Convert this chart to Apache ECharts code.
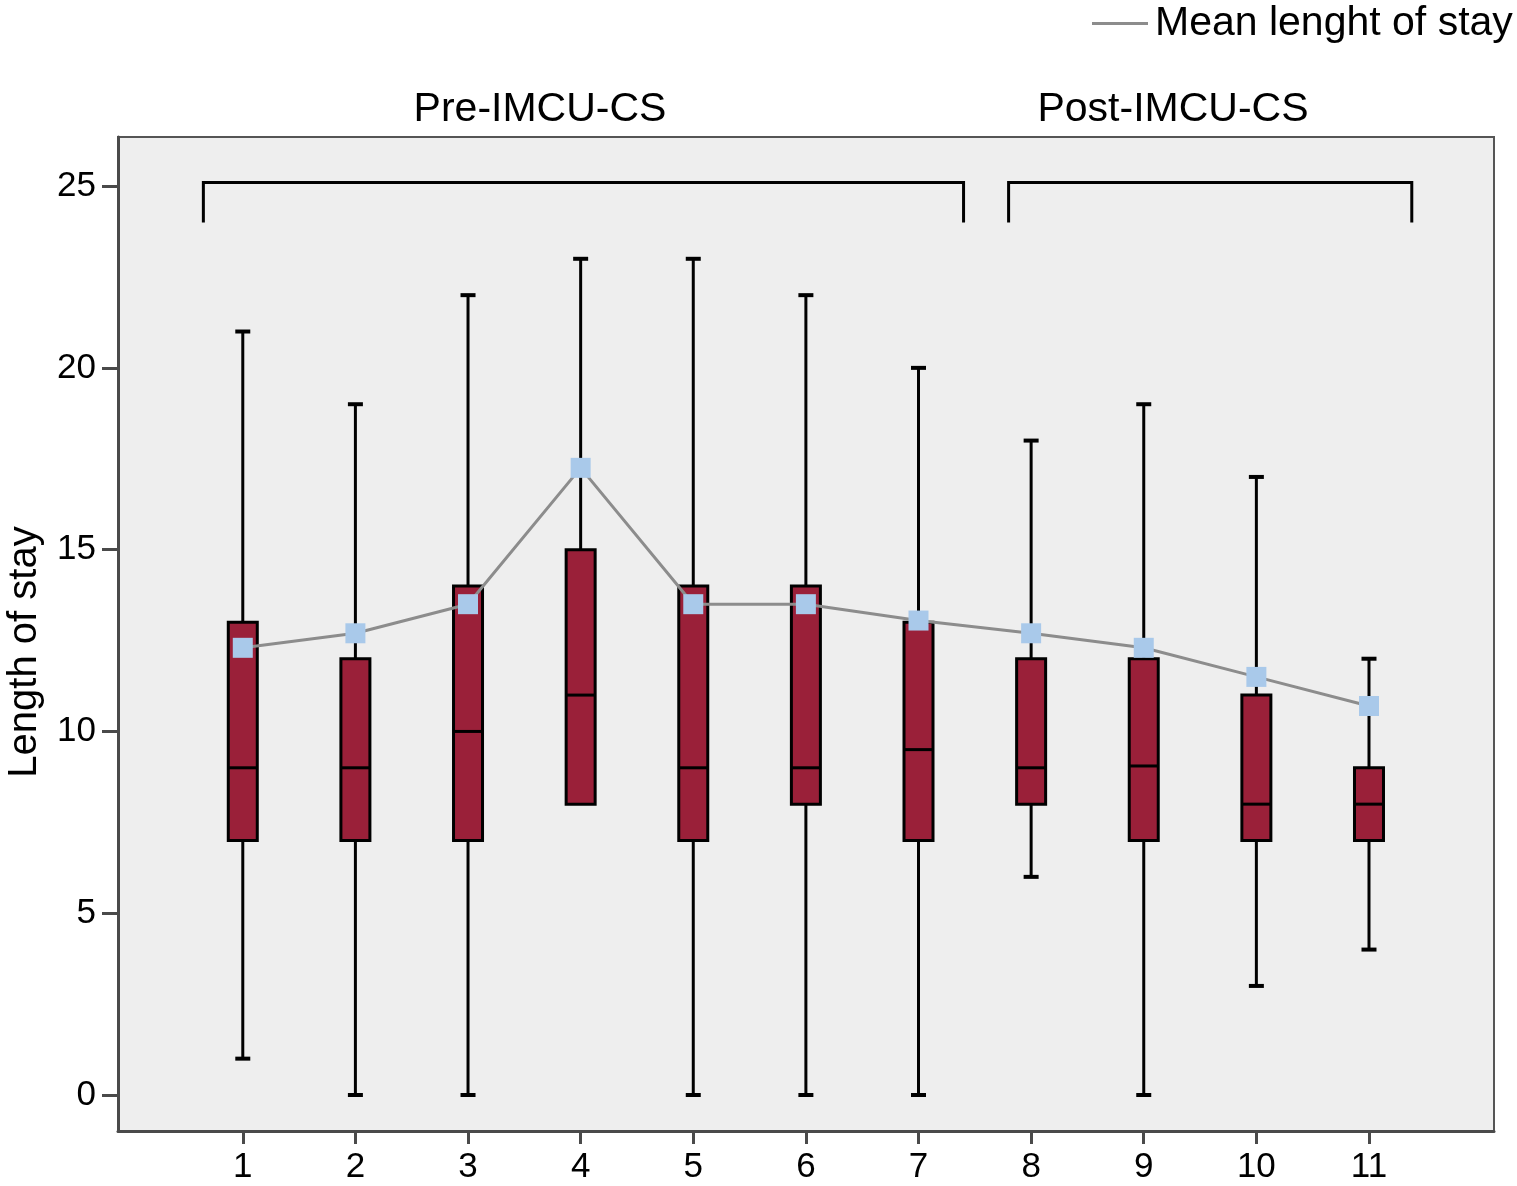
<!DOCTYPE html>
<html>
<head>
<meta charset="utf-8">
<title>Length of stay</title>
<script src="https://cdn.jsdelivr.net/npm/echarts@6/dist/echarts.min.js"></script>
<style>
  html, body { margin: 0; padding: 0; background: #fff; }
  #chart { width: 1517px; height: 1186px; }
</style>
</head>
<body>
<div id="chart"></div>
<script>
// groups (x positions) and box statistics: [min, q1, median, q3, max]
var groups = [1, 2, 3, 4, 5, 6, 7, 8, 9, 10, 11];
var boxStats = [
  [1, 7, 9, 13, 21],
  [0, 7, 9, 12, 19],
  [0, 7, 10, 14, 22],
  [8, 8, 11, 15, 23],
  [0, 7, 9, 14, 23],
  [0, 8, 9, 14, 22],
  [0, 7, 9.5, 13, 20],
  [6, 8, 9, 12, 18],
  [0, 7, 9.05, 12, 19],
  [3, 7, 8, 11, 17],
  [4, 7, 8, 9, 12]
];
var meanStay = [12.3, 12.7, 13.5, 17.25, 13.5, 13.5, 13.05, 12.7, 12.3, 11.5, 10.7];
// brackets: [xStart, xEnd, yLow, yTop]
var brackets = [
  [0.65, 7.4, 24, 25.1],
  [7.8, 11.38, 24, 25.1]
];
var yTicks = [0, 5, 10, 15, 20, 25];

var boxData = groups.map(function (g, i) { return [g].concat(boxStats[i]); });
var meanData = groups.map(function (g, i) { return [g, meanStay[i]]; });

var myChart = echarts.init(document.getElementById('chart'));

function renderBox(params, api) {
  var x = api.value(0);
  var lo = api.coord([x, api.value(1)]);
  var q1 = api.coord([x, api.value(2)]);
  var md = api.coord([x, api.value(3)]);
  var q3 = api.coord([x, api.value(4)]);
  var hi = api.coord([x, api.value(5)]);
  var bw = 29, cw = 15;
  var cx = q1[0];
  var stroke = { stroke: '#000', lineWidth: 3 };
  var kids = [];
  // whiskers
  kids.push({ type: 'line', shape: { x1: cx, y1: q3[1], x2: cx, y2: hi[1] }, style: stroke });
  kids.push({ type: 'line', shape: { x1: cx - cw / 2, y1: hi[1], x2: cx + cw / 2, y2: hi[1] }, style: { stroke: '#000', lineWidth: 4 } });
  if (api.value(1) < api.value(2)) {
    kids.push({ type: 'line', shape: { x1: cx, y1: q1[1], x2: cx, y2: lo[1] }, style: stroke });
    kids.push({ type: 'line', shape: { x1: cx - cw / 2, y1: lo[1], x2: cx + cw / 2, y2: lo[1] }, style: { stroke: '#000', lineWidth: 4 } });
  }
  // box
  kids.push({ type: 'rect', shape: { x: cx - bw / 2, y: q3[1], width: bw, height: q1[1] - q3[1] },
    style: { fill: '#9a2039', stroke: '#000', lineWidth: 3 } });
  // median
  kids.push({ type: 'line', shape: { x1: cx - bw / 2, y1: md[1], x2: cx + bw / 2, y2: md[1] }, style: stroke });
  return { type: 'group', children: kids };
}

function renderBracket(params, api) {
  var a = api.coord([api.value(0), api.value(2)]);
  var b = api.coord([api.value(0), api.value(3)]);
  var c = api.coord([api.value(1), api.value(3)]);
  var d = api.coord([api.value(1), api.value(2)]);
  return {
    type: 'polyline',
    shape: { points: [a, b, c, d] },
    style: { stroke: '#000', lineWidth: 3, fill: null }
  };
}

var font = 'Liberation Sans, Arial, sans-serif';

var option = {
  animation: false,
  textStyle: { fontFamily: font },
  graphic: [
    { type: 'text', x: 540, y: 110,
      style: { text: 'Pre-IMCU-CS', font: '41px ' + font, fill: '#000', align: 'center', verticalAlign: 'middle' } },
    { type: 'text', x: 1173, y: 110,
      style: { text: 'Post-IMCU-CS', font: '41px ' + font, fill: '#000', align: 'center', verticalAlign: 'middle' } },
    { type: 'text', x: 25, y: 652, rotation: Math.PI / 2,
      style: { text: 'Length of stay', font: '40px ' + font, fill: '#000', align: 'center', verticalAlign: 'middle' } }
  ],
  legend: {
    left: 1092, top: 3, padding: 0,
    itemWidth: 56, itemHeight: 3, itemGap: 0,
    textStyle: { fontSize: 41, color: '#000', padding: [0, 0, 0, 2] },
    data: [{ name: 'Mean lenght of stay', icon: 'rect', itemStyle: { color: '#8c8c8c' } }]
  },
  grid: {
    left: 118, right: 23, top: 137, bottom: 55,
    outerBoundsMode: 'none', containLabel: false,
    show: true, backgroundColor: '#eeeeee', borderColor: '#555', borderWidth: 2
  },
  xAxis: {
    type: 'value', min: -0.108, max: 12.11,
    splitLine: { show: false },
    axisLine: { onZero: false, lineStyle: { color: '#4a4a4a', width: 3 } },
    axisTick: { customValues: groups, length: 13, lineStyle: { color: '#4a4a4a', width: 3 } },
    axisLabel: { customValues: groups, fontSize: 35, color: '#000', margin: 19 }
  },
  yAxis: {
    type: 'value', min: -0.99, max: 26.35,
    splitLine: { show: false },
    axisLine: { onZero: false, lineStyle: { color: '#4a4a4a', width: 3 } },
    axisTick: { customValues: yTicks, length: 16, lineStyle: { color: '#4a4a4a', width: 3 } },
    axisLabel: { customValues: yTicks, fontSize: 35, color: '#000', margin: 22 }
  },
  series: [
    {
      type: 'custom', name: 'brackets',
      renderItem: renderBracket,
      data: brackets, silent: true, z: 1
    },
    {
      type: 'custom', name: 'boxes',
      renderItem: renderBox,
      data: boxData, z: 2
    },
    {
      type: 'line', name: 'Mean lenght of stay',
      data: meanData, z: 3,
      symbol: 'rect', symbolSize: 20,
      itemStyle: { color: '#a9c9ea' },
      lineStyle: { color: '#8c8c8c', width: 3 }
    }
  ]
};

myChart.setOption(option);
</script>
</body>
</html>
